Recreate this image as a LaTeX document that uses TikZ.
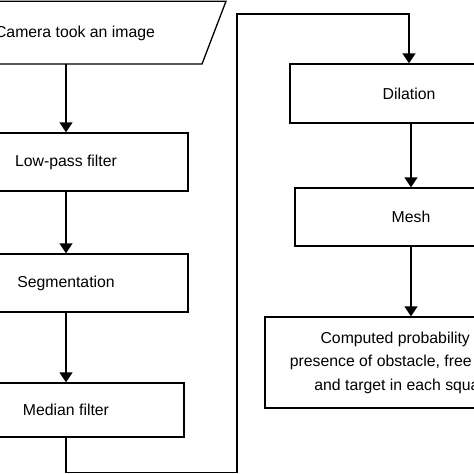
\documentclass[tikz,border=0pt]{standalone}
\usepackage{fontspec}
\setmainfont{Liberation Sans}
\usetikzlibrary{arrows.meta,calc}
\begin{document}
\begin{tikzpicture}[x=1pt,y=-1pt,
  line width=1.3pt,
  every node/.style={font=\fontsize{15.8}{23.5}\selectfont},
  procbox/.style={draw, rectangle, inner sep=0pt, align=center},
  arr/.style={-{Triangle[width=13pt,length=10pt]}}]
\useasboundingbox (0,0) rectangle (474,474);
\clip (0,0) rectangle (474,474);
% input parallelogram
\draw (-40,64) -- (202,64) -- (226,1.2) -- (-20,1.2);
\node (cam) at (75,33) {Camera took an image};
\coordinate (camb) at (66,64);
% left column
\node[procbox, minimum width=244pt, minimum height=58pt] (low) at (66,162) {Low-pass filter};
\node[procbox, minimum width=244pt, minimum height=58pt] (seg) at (66,283) {Segmentation};
\node[procbox, minimum width=236pt, minimum height=54pt] (med) at (66,410) {Median filter};
% right column
\node[procbox, minimum width=238pt, minimum height=59pt] (dil) at (409,93.5) {Dilation};
\node[procbox, minimum width=232pt, minimum height=58pt] (mesh) at (411,217) {Mesh};
\node[procbox, minimum width=278pt, minimum height=91pt] (comp) at (404,362.5)
  {Computed probability of\\presence of obstacle, free space\\and target in each square};
% loop corners
\coordinate (c1) at (237,472.5);
\coordinate (c2) at (409,14);
% connectors
\draw[arr] (camb) -- (low.north);
\draw[arr] (low.south) -- (seg.north);
\draw[arr] (seg.south) -- (med.north);
\draw[arr] (med.south) |- (c1) |- (c2) -- (dil.north);
\draw[arr] (dil.south -| mesh.north) -- (mesh.north);
\draw[arr] (mesh.south) -- (mesh.south |- comp.north);
\end{tikzpicture}
\end{document}
